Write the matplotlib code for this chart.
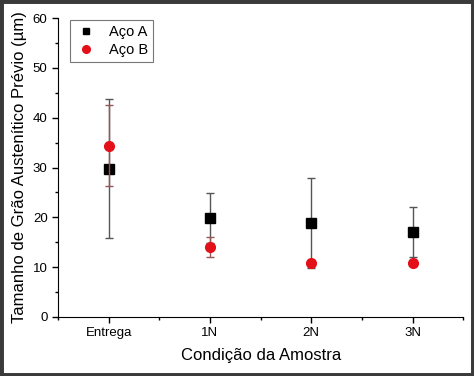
import numpy as np
import matplotlib.pyplot as plt
from matplotlib.lines import Line2D
from matplotlib.patches import Rectangle
from matplotlib.ticker import MultipleLocator

plt.rcParams['font.family'] = ['Liberation Sans', 'DejaVu Sans']

categories = ["Entrega", "1N", "2N", "3N"]
aco_a = [29.8, 19.9, 18.9, 17.0]
aco_a_err = [14.0, 5.0, 9.0, 5.0]
aco_b = [34.4, 14.1, 10.9, 10.9]
aco_b_err = [8.1, 2.0, 0.6, 0.6]

x = np.arange(1, len(categories) + 1)

fig = plt.figure(figsize=(4.74, 3.76), dpi=100)
ax = fig.add_axes([0.1224, 0.157, 0.855, 0.795])

ax.errorbar(x, aco_a, yerr=aco_a_err, fmt="s", color="black", ms=6.5,
            ecolor="#555555", elinewidth=1, capsize=3, capthick=1, zorder=3)
ax.errorbar(x, aco_b, yerr=aco_b_err, fmt="o", color="#e3101a", ms=7,
            ecolor="#9a5555", elinewidth=1, capsize=3, capthick=1, zorder=4)

ax.set_xlim(0.5, 4.5)
ax.set_ylim(0, 60)
ax.set_xticks(x)
ax.set_xticklabels(categories)
ax.xaxis.set_minor_locator(MultipleLocator(0.5))
ax.yaxis.set_major_locator(MultipleLocator(10))
ax.yaxis.set_minor_locator(MultipleLocator(5))
ax.tick_params(which="both", direction="out", labelsize=9.5, width=1)
ax.tick_params(which="major", length=4)
ax.tick_params(which="minor", length=2.5)
ax.spines["top"].set_visible(False)
ax.spines["right"].set_visible(False)

ax.set_xlabel("Condição da Amostra", fontsize=12, labelpad=6)
ax.set_ylabel("Tamanho de Grão Austenítico Prévio (µm)", fontsize=12, labelpad=4)

handles = [
    Line2D([], [], marker="s", color="black", ls="none", ms=5),
    Line2D([], [], marker="o", color="#e3101a", ls="none", ms=5.5),
]
leg = ax.legend(handles, ["Aço A", "Aço B"], loc="upper left",
                bbox_to_anchor=(0.03, 0.995), borderaxespad=0, fontsize=10.5,
                frameon=True, fancybox=False, edgecolor="#555555",
                handletextpad=0.8, borderpad=0.35, labelspacing=0.3,
                handlelength=1.5)
leg.get_frame().set_linewidth(0.8)

fig.patches.append(Rectangle((0, 0), 1, 1, transform=fig.transFigure,
                             fill=False, edgecolor="#3a3a3a", linewidth=5))

fig.savefig("out.png", dpi=100)
